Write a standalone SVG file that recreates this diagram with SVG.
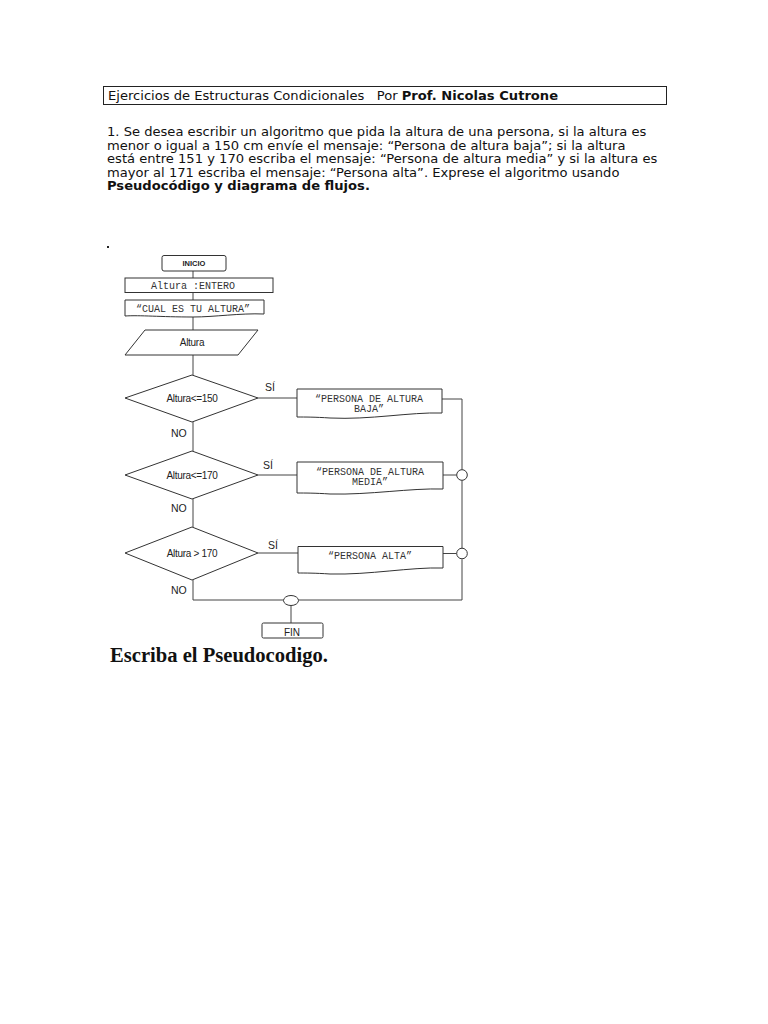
<svg xmlns="http://www.w3.org/2000/svg" width="768" height="1024" viewBox="0 0 768 1024">
<style>
.v{font-family:"DejaVu Sans",Verdana,sans-serif;font-size:13.1px;fill:#111}
.b{font-weight:bold}
.sh{fill:#fff;stroke:#333;stroke-width:1}
.ln{fill:none;stroke:#444;stroke-width:1}
.a{font-family:"Liberation Sans",Arial,sans-serif;font-size:10px;fill:#222;letter-spacing:-0.3px}
.m{font-family:"Liberation Mono","Courier New",monospace;font-size:10px;fill:#333}
.lb{font-family:"Liberation Sans",Arial,sans-serif;font-size:10.5px;fill:#222}
</style>
<rect width="768" height="1024" fill="#fff"/>
<g id="header">
<rect x="103.5" y="86.5" width="563" height="18" fill="none" stroke="#222"/>
<text class="v" x="108" y="100" font-size="13px">Ejercicios de Estructuras Condicionales &#160; Por <tspan class="b">Prof. Nicolas Cutrone</tspan></text>
</g>
<g id="enunciado">
<text class="v" x="107" y="136">1. Se desea escribir un algoritmo que pida la altura de una persona, si la altura es</text>
<text class="v" x="107" y="149.5">menor o igual a 150 cm envíe el mensaje: “Persona de altura baja”; si la altura</text>
<text class="v" x="107" y="163">está entre 151 y 170 escriba el mensaje: “Persona de altura media” y si la altura es</text>
<text class="v" x="107" y="176.5">mayor al 171 escriba el mensaje: “Persona alta”. Exprese el algoritmo usando</text>
<text class="v b" x="107" y="190">Pseudocódigo y diagrama de flujos.</text>
<rect x="107" y="246" width="2" height="2" fill="#222"/>
</g>
<g id="connectors">
<path class="ln" d="M193 271V278M193 292V300M193 316V330M193 355V375M193 422V451M193 499V527M193 580V600H283.5M298.5 600H462V559.3M462 548.7V480.3M462 469.7V399H442"/>
<path class="ln" d="M258 398H297M258 475H297M258 553H298M443 475H456.7M443 553.5H456.7M291 605.5V623"/>
<circle class="sh" cx="462" cy="475" r="5.3"/>
<circle class="sh" cx="462" cy="553.5" r="5.3"/>
<ellipse class="sh" cx="291" cy="600.5" rx="7.5" ry="5"/>
<text class="lb" x="265" y="391">SÍ</text>
<text class="lb" x="263" y="469">SÍ</text>
<text class="lb" x="268" y="549">SÍ</text>
<text class="lb" x="171" y="437">NO</text>
<text class="lb" x="171" y="512">NO</text>
<text class="lb" x="171" y="594">NO</text>
</g>
<g id="inicio">
<rect class="sh" x="162" y="255.5" width="64" height="15.5" rx="2"/>
<text x="194" y="266" text-anchor="middle" font-family="Liberation Sans,Arial,sans-serif" font-size="7.5px" font-weight="bold" fill="#222">INICIO</text>
</g>
<g id="declaracion">
<rect class="sh" x="125" y="278" width="148" height="14.5"/>
<text class="m" x="193" y="289" text-anchor="middle">Altura :ENTERO</text>
</g>
<g id="pregunta">
<path class="sh" d="M125 300H264V314C240 313 215 317 193 317C160 317 140 315 125 316Z"/>
<text class="m" x="193" y="311.5" text-anchor="middle">“CUAL ES TU ALTURA”</text>
</g>
<g id="entrada">
<path class="sh" d="M145 330H258L238 355H125Z"/>
<text class="a" x="192" y="346" text-anchor="middle">Altura</text>
</g>
<g id="dec1">
<path class="sh" d="M192 375L258 398L192 422L125 398Z"/>
<text class="a" x="192" y="401.5" text-anchor="middle">Altura&lt;=150</text>
</g>
<g id="msg1">
<path class="sh" d="M297 389H442V413C410 412 370 420 330 418C315 417 305 417 297 417Z"/>
<text class="m" x="369" y="401.5" text-anchor="middle">“PERSONA DE ALTURA</text>
<text class="m" x="369" y="412" text-anchor="middle">BAJA”</text>
</g>
<g id="dec2">
<path class="sh" d="M192 451L258 475L192 499L125 475Z"/>
<text class="a" x="192" y="478.5" text-anchor="middle">Altura&lt;=170</text>
</g>
<g id="msg2">
<path class="sh" d="M297 462H443V489C410 488 370 495 330 494C315 493 305 493 297 493Z"/>
<text class="m" x="370" y="474.5" text-anchor="middle">“PERSONA DE ALTURA</text>
<text class="m" x="370" y="485" text-anchor="middle">MEDIA”</text>
</g>
<g id="dec3">
<path class="sh" d="M192 527L258 553L192 580L125 553Z"/>
<text class="a" x="192" y="556.5" text-anchor="middle">Altura &gt; 170</text>
</g>
<g id="msg3">
<path class="sh" d="M298 546.5H443V568C410 567 370 575 330 574C315 573 305 573 298 573Z"/>
<text class="m" x="370" y="558.5" text-anchor="middle">“PERSONA ALTA”</text>
</g>
<g id="fin">
<rect class="sh" x="262" y="623" width="61" height="15" rx="1.5"/>
<text x="292" y="636" text-anchor="middle" font-family="Liberation Sans,Arial,sans-serif" font-size="10px" fill="#222">FIN</text>
</g>
<g id="pie">
<text x="110" y="662" font-family="Liberation Serif,'Times New Roman',serif" font-size="20.6px" font-weight="bold" fill="#111">Escriba el Pseudocodigo.</text>
</g>
</svg>
